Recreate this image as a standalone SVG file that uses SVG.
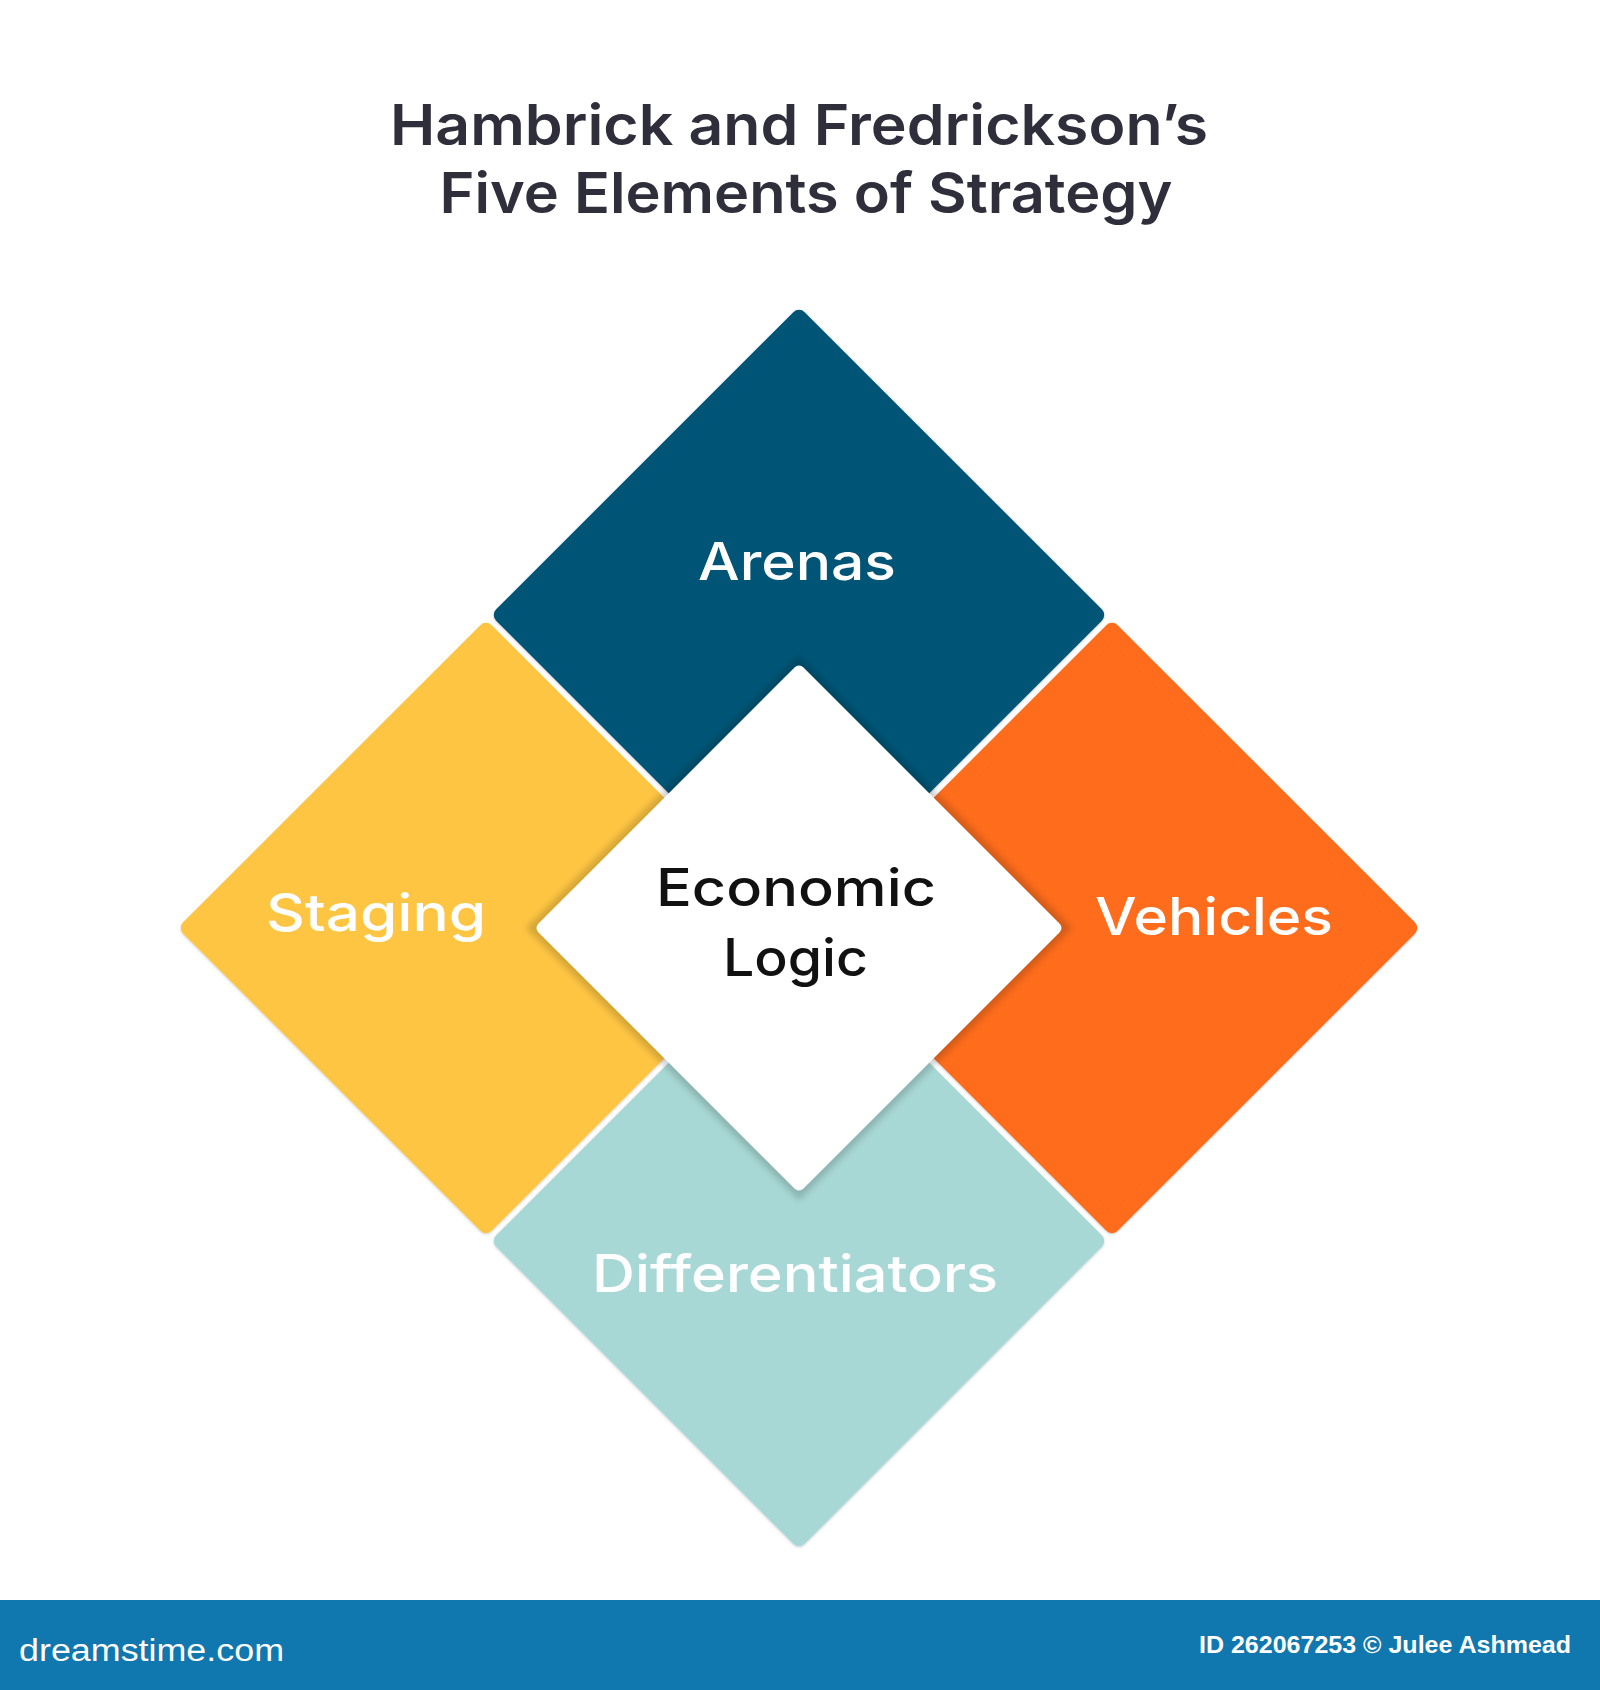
<svg xmlns="http://www.w3.org/2000/svg" width="1600" height="1690" viewBox="0 0 1600 1690">
  <defs>
    <filter id="edge" x="-5%" y="-5%" width="110%" height="110%">
      <feDropShadow dx="0" dy="1" stdDeviation="1.3" flood-color="#000" flood-opacity="0.22"/>
    </filter>
    <filter id="soft" x="-10%" y="-10%" width="120%" height="120%">
      <feGaussianBlur stdDeviation="3"/>
    </filter>
    <style>
      .quad { stroke-width: 16; stroke-linejoin: round; }
      .arenas { fill: #045476; stroke: #045476; }
      .staging { fill: #FDC543; stroke: #FDC543; }
      .vehicles { fill: #FE6C1D; stroke: #FE6C1D; }
      .diff { fill: #A8D8D5; stroke: #A8D8D5; }
      .label { font-family: Inter, "Open Sans", "Liberation Sans", sans-serif; font-size: 52px; font-weight: 500; fill: #ffffff; text-anchor: middle; }
      .center-label { font-family: Inter, "Open Sans", "Liberation Sans", sans-serif; font-size: 52px; font-weight: 500; fill: #111111; text-anchor: middle; }
      .title { font-family: Inter, "Open Sans", "Liberation Sans", sans-serif; font-size: 56px; font-weight: 600; fill: #2f2f3b; text-anchor: middle; }
      .foot { font-family: "Liberation Sans", Arial, sans-serif; fill: #ffffff; }
    </style>
  </defs>

  <rect x="0" y="0" width="1600" height="1690" fill="#ffffff"/>

  <g id="title">
    <text class="title" x="799" y="145" textLength="818" lengthAdjust="spacingAndGlyphs">Hambrick and Fredrickson’s</text>
    <text class="title" x="806" y="213" textLength="733" lengthAdjust="spacingAndGlyphs">Five Elements of Strategy</text>
  </g>

  <g id="node-arenas" filter="url(#edge)">
    <polygon class="quad arenas" points="799,317.8 1096.2,615 799,912.2 501.8,615"/>
  </g>
  <g id="node-staging" filter="url(#edge)">
    <polygon class="quad staging" points="486,630.8 783.2,928 486,1225.2 188.8,928"/>
  </g>
  <g id="node-vehicles" filter="url(#edge)">
    <polygon class="quad vehicles" points="1112,630.8 1409.2,928 1112,1225.2 814.8,928"/>
  </g>
  <g id="node-differentiators" filter="url(#edge)">
    <polygon class="quad diff" points="799,943.8 1096.2,1241 799,1538.2 501.8,1241"/>
  </g>

  <g id="node-economic-logic">
    <polygon points="799,655 1072,928 799,1201 526,928" fill="#000000" fill-opacity="0.16" filter="url(#soft)"/>
    <polygon points="799,671.5 1055.5,928 799,1184.5 542.5,928" fill="#ffffff" stroke="#ffffff" stroke-width="12" stroke-linejoin="round"/>
    <text class="center-label" x="796" y="906" textLength="280" lengthAdjust="spacingAndGlyphs">Economic</text>
    <text class="center-label" x="795.5" y="976" textLength="145" lengthAdjust="spacingAndGlyphs">Logic</text>
  </g>

  <g id="labels">
    <text class="label" x="797" y="580" textLength="198" lengthAdjust="spacingAndGlyphs">Arenas</text>
    <text class="label" x="376" y="931" textLength="220" lengthAdjust="spacingAndGlyphs">Staging</text>
    <text class="label" x="1214" y="935" textLength="238" lengthAdjust="spacingAndGlyphs">Vehicles</text>
    <text class="label" x="795" y="1292" textLength="406" lengthAdjust="spacingAndGlyphs">Differentiators</text>
  </g>

  <g id="connectors"></g>

  <g id="footer">
    <rect x="0" y="1600" width="1600" height="90" fill="#1177AF"/>
    <text class="foot" x="19" y="1661" font-size="31" textLength="265" lengthAdjust="spacingAndGlyphs">dreamstime.com</text>
    <text class="foot" x="1571" y="1653" font-size="23" font-weight="700" text-anchor="end" textLength="372" lengthAdjust="spacingAndGlyphs">ID 262067253 © Julee Ashmead</text>
  </g>
</svg>
